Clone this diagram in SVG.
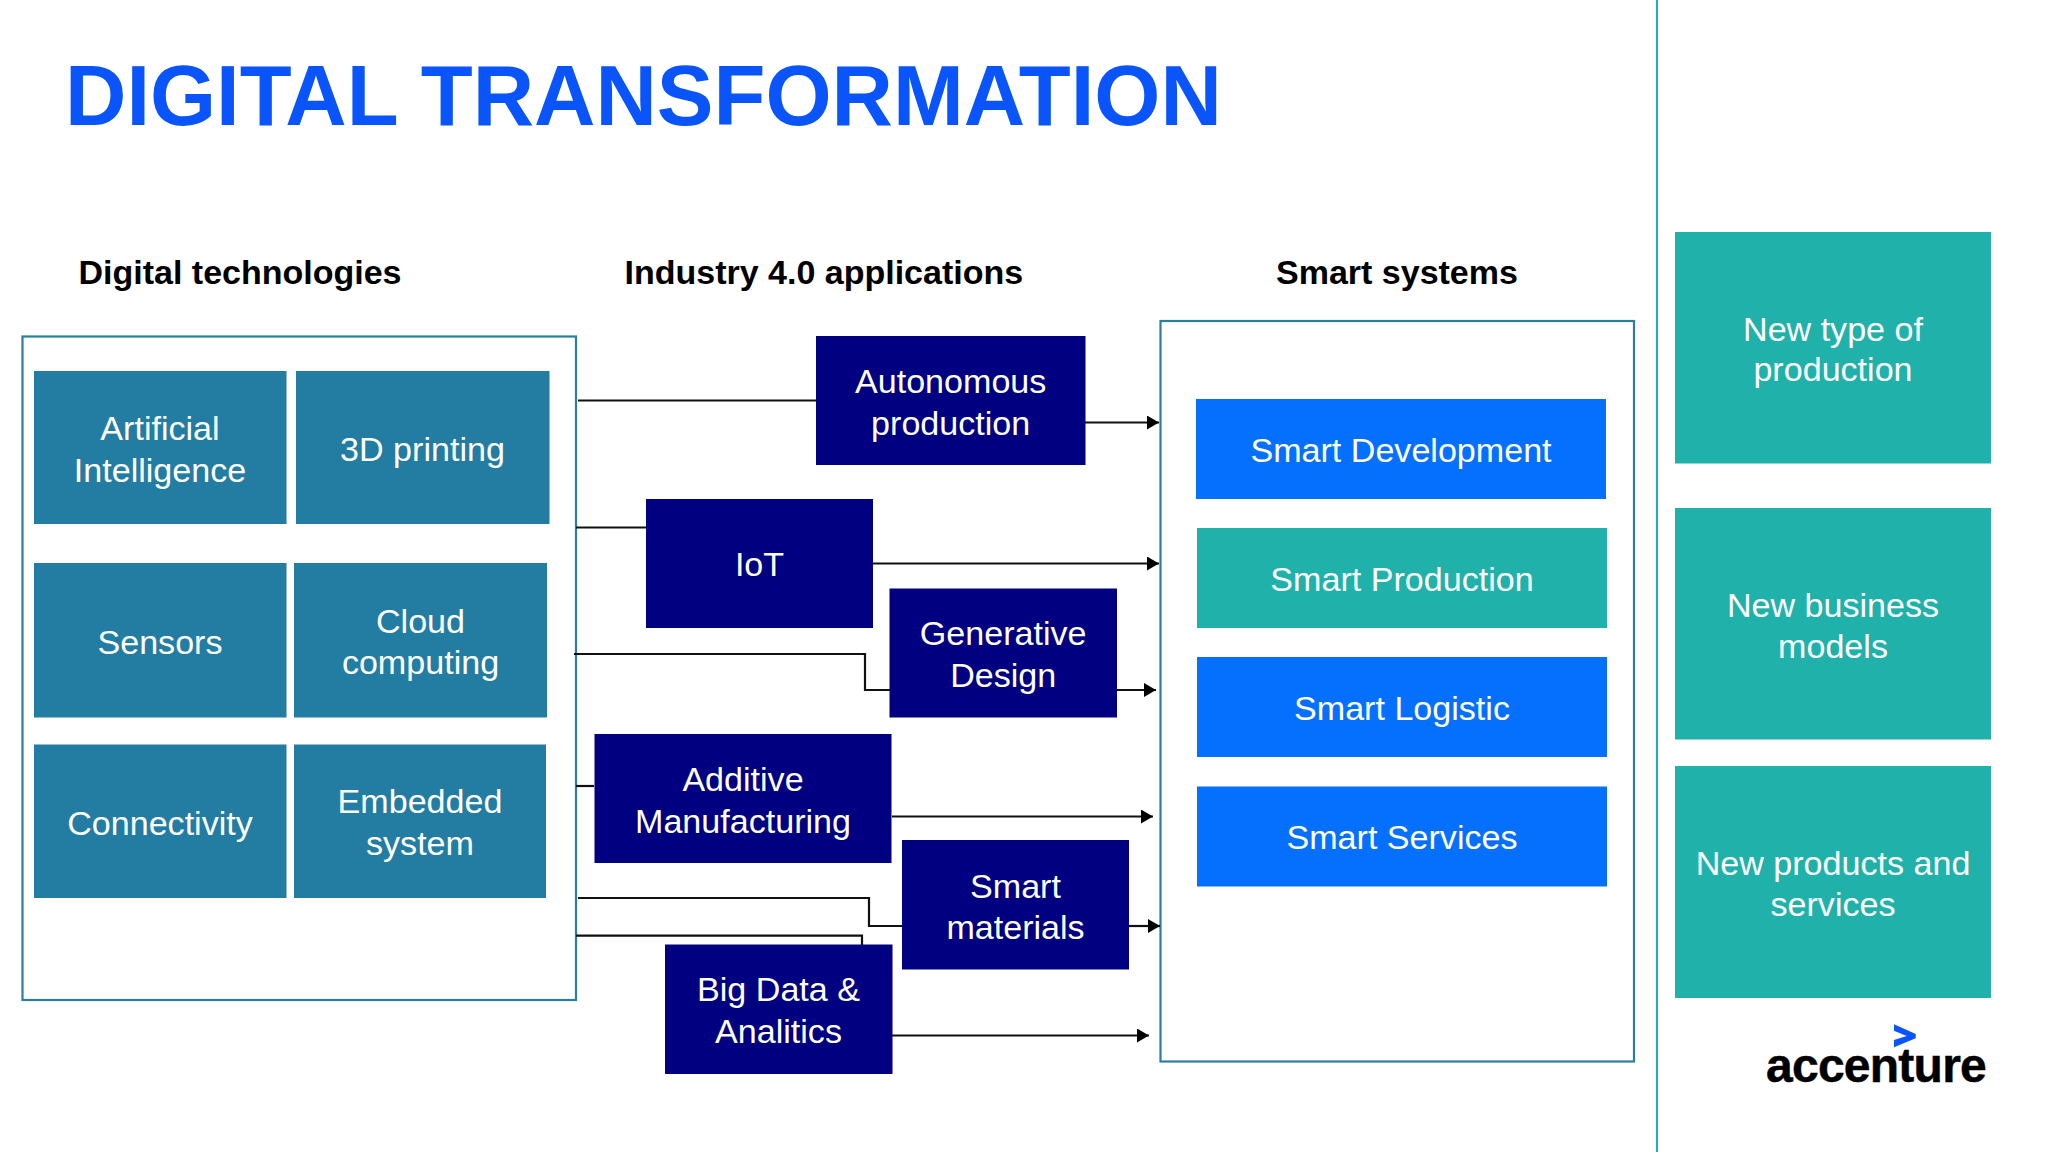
<svg xmlns="http://www.w3.org/2000/svg" width="2048" height="1152" viewBox="0 0 2048 1152">
<style>
text{font-family:"Liberation Sans",Arial,sans-serif;text-anchor:middle;fill:#fff;font-size:34.1px}
.h{font-weight:700;fill:#000;text-anchor:start;font-size:34px}
.title{font-weight:700;fill:#0a55fb;text-anchor:start;font-size:85px}
.frame{fill:#fff;stroke:#2a7f9f;stroke-width:2.2}
.tech{fill:#237da3}
.app{fill:#000080}
.blue{fill:#0570fd}
.teal{fill:#20b2aa}
.line{fill:none;stroke:#111;stroke-width:2.2}
.arrow{fill:none;stroke:#111;stroke-width:2.2;marker-end:url(#ah)}
</style>
<defs><marker id="ah" markerUnits="userSpaceOnUse" markerWidth="13" markerHeight="14" refX="12" refY="7" orient="auto"><path d="M0 0L12 7L0 14Z" fill="#000"/></marker></defs>
<rect width="2048" height="1152" fill="#fff"/>
<text class="title" x="65" y="125">DIGITAL TRANSFORMATION</text>
<text class="h" x="78.500" y="283.500">Digital technologies</text>
<text class="h" x="624.500" y="283.500">Industry 4.0 applications</text>
<text class="h" x="1276" y="283.500">Smart systems</text>
<line x1="1657" y1="0" x2="1657" y2="1152" stroke="#20b2aa" stroke-width="2"/>
<rect id="frame-tech" class="frame" x="22.500" y="336.500" width="553.500" height="663.500"/>
<rect id="frame-smart" class="frame" x="1160.500" y="321" width="473.500" height="740.500"/>
<g id="connectors">
<path class="line" d="M578 400.500H816"/>
<path class="line" d="M576 527.500H646"/>
<path class="line" d="M574 654H865V690H890"/>
<path class="line" d="M576 786H594"/>
<path class="line" d="M578 898H869V926H902"/>
<path class="line" d="M576 935.700H862V945"/>
<path class="arrow" d="M1085 422.500H1159"/>
<path class="arrow" d="M873 563.500H1159"/>
<path class="arrow" d="M1117 690H1156"/>
<path class="arrow" d="M892 816.500H1153"/>
<path class="arrow" d="M1129 926H1160"/>
<path class="arrow" d="M892 1035.500H1149"/>
</g>
<g id="ai"><rect class="tech" x="34" y="371" width="252.500" height="153"/><text x="160" y="440">Artificial</text><text x="160" y="481.500">Intelligence</text></g>
<g id="printing"><rect class="tech" x="296" y="371" width="253.500" height="153"/><text x="422.500" y="460.500">3D printing</text></g>
<g id="sensors"><rect class="tech" x="34" y="563" width="252.500" height="154.500"/><text x="160" y="653.500">Sensors</text></g>
<g id="cloud"><rect class="tech" x="294" y="563" width="253" height="154.500"/><text x="420.500" y="633">Cloud</text><text x="420.500" y="674">computing</text></g>
<g id="connectivity"><rect class="tech" x="34" y="744.500" width="252.500" height="153.500"/><text x="160" y="834.500">Connectivity</text></g>
<g id="embedded"><rect class="tech" x="294" y="744.500" width="252" height="153.500"/><text x="420" y="813">Embedded</text><text x="420" y="854.500">system</text></g>
<g id="autonomous"><rect class="app" x="816" y="336" width="269.500" height="129"/><text x="950.700" y="393">Autonomous</text><text x="950.700" y="434.500">production</text></g>
<g id="iot"><rect class="app" x="646" y="499" width="227" height="129"/><text x="759.500" y="576">IoT</text></g>
<g id="generative"><rect class="app" x="889.500" y="588.500" width="227.500" height="129"/><text x="1003.200" y="644.500">Generative</text><text x="1003.200" y="686.500">Design</text></g>
<g id="additive"><rect class="app" x="594.500" y="734" width="297" height="129"/><text x="743" y="791">Additive</text><text x="743" y="832.500">Manufacturing</text></g>
<g id="materials"><rect class="app" x="902" y="840" width="227" height="129.500"/><text x="1015.500" y="897.500">Smart</text><text x="1015.500" y="938.500">materials</text></g>
<g id="bigdata"><rect class="app" x="665" y="944.500" width="227.500" height="129.500"/><text x="778.500" y="1001">Big Data &amp;</text><text x="778.500" y="1042.500">Analitics</text></g>
<g id="development"><rect class="blue" x="1196" y="399" width="410" height="100"/><text x="1401" y="462">Smart Development</text></g>
<g id="production"><rect class="teal" x="1197" y="528" width="410" height="100"/><text x="1402" y="591">Smart Production</text></g>
<g id="logistic"><rect class="blue" x="1197" y="657" width="410" height="100"/><text x="1402" y="720">Smart Logistic</text></g>
<g id="services"><rect class="blue" x="1197" y="786.500" width="410" height="100"/><text x="1402" y="849">Smart Services</text></g>
<g id="new-production"><rect class="teal" x="1675" y="232" width="316" height="231.500"/><text x="1833" y="340.500">New type of</text><text x="1833" y="381">production</text></g>
<g id="new-business"><rect class="teal" x="1675" y="508" width="316" height="231.500"/><text x="1833" y="616.500">New business</text><text x="1833" y="658">models</text></g>
<g id="new-products"><rect class="teal" x="1675" y="766" width="316" height="232"/><text x="1833" y="874.500">New products and</text><text x="1833" y="916">services</text></g>
<g id="logo"><polygon points="1894,1024.300 1915.700,1034 1915.700,1038.300 1894,1047.300 1894,1040 1906.700,1036 1894,1030.700" fill="#0a55fb"/><text x="1766" y="1081.500" style="font-weight:700;fill:#000;font-size:48px;text-anchor:start;letter-spacing:-.75px;stroke:#000;stroke-width:.5">accenture</text></g>
</svg>
